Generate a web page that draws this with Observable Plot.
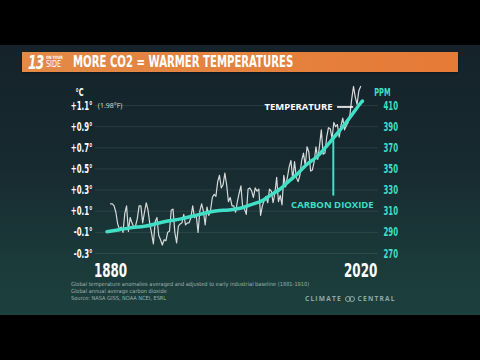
<!DOCTYPE html>
<html>
<head>
<meta charset="utf-8">
<script src="https://cdn.jsdelivr.net/npm/d3@7"></script>
<script src="https://cdn.jsdelivr.net/npm/@observablehq/plot@0.6"></script>
<style>
  html,body{margin:0;padding:0;background:#000;}
  #wrap{position:relative;width:480px;height:360px;overflow:hidden;background:#000;font-family:"DejaVu Sans Condensed","DejaVu Sans",sans-serif;}
  #panel{position:absolute;left:0;top:45px;width:480px;height:270px;background:linear-gradient(180deg,#15222a 0%,#172a30 45%,#1b3a3a 80%,#1c403e 100%);}
  #bar{position:absolute;left:22px;top:52px;width:436px;height:20px;background:linear-gradient(90deg,#e28a46,#e67a37);box-shadow:0 1px 2px rgba(0,0,0,.4);}
  .sq{display:inline-block;transform-origin:left center;white-space:nowrap;}
  #logo13{position:absolute;left:6px;top:0px;color:#fff;font-weight:bold;font-style:italic;font-size:19px;line-height:20px;letter-spacing:-1px;}
  #logoA{position:absolute;left:24px;top:3px;color:#fff;font-size:4.5px;line-height:5px;font-weight:bold;}
  #logoB{position:absolute;left:24px;top:8px;color:#fff;font-size:9px;line-height:9px;}
  #title{position:absolute;left:51px;top:1px;color:#fff;font-weight:bold;font-size:15px;line-height:18px;}
  #chart{position:absolute;left:0;top:80px;}
  #foot{position:absolute;left:71px;top:281px;color:#9cb0ad;font-family:"DejaVu Sans Condensed","Liberation Sans",sans-serif;font-size:5.6px;line-height:7px;}
  #cc{position:absolute;left:305px;top:294px;color:#8fa9a6;font-family:"Open Sans",sans-serif;font-weight:bold;font-size:6.6px;letter-spacing:1.2px;white-space:nowrap;}
  .ring{display:inline-block;width:4px;height:4px;border:1.3px solid #8fa9a6;border-radius:50%;vertical-align:-1px;}
</style>
</head>
<body>
<div id="wrap">
  <div id="panel"></div>
  <div id="bar">
    <div id="logo13"><span class="sq" style="transform:scaleX(0.72)">13</span></div>
    <div id="logoA"><span class="sq" style="transform:scaleX(0.8)">ON YOUR</span></div>
    <div id="logoB"><span class="sq" style="transform:scaleX(0.8)">SIDE</span></div>
    <div id="title"><span class="sq" style="transform:scaleX(0.75)">MORE CO2 = WARMER TEMPERATURES</span></div>
  </div>
  <div id="chart"></div>
  <div id="foot">
    Global temperature anomalies averaged and adjusted to early industrial baseline (1881-1910)<br>
    Global annual average carbon dioxide<br>
    Source: NASA GISS, NOAA NCEI, ESRL
  </div>
  <div id="cc">CLIMATE <span class="ring"></span><span class="ring" style="margin-left:-2px"></span> CENTRAL</div>
</div>
<script>
// ---------- data ----------
const tempYears = d3.range(1880, 2021);
const tempValues = [
  0.17, 0.17, 0.15, 0.09,-0.02,-0.07,-0.05,-0.10, 0.08, 0.15,
 -0.09, 0.04,-0.01,-0.05,-0.04, 0.03, 0.15, 0.15,-0.01, 0.09,
  0.18, 0.11,-0.02,-0.11,-0.21, 0.00, 0.04,-0.13,-0.17,-0.22,
 -0.17,-0.18,-0.10,-0.09, 0.11, 0.12,-0.10,-0.20,-0.04,-0.02,
 -0.01, 0.07,-0.03,-0.01,-0.01, 0.04, 0.15, 0.04, 0.06,-0.10,
  0.10, 0.17, 0.10,-0.03, 0.14, 0.06, 0.11, 0.23, 0.26, 0.24,
  0.38, 0.44, 0.32, 0.35, 0.46, 0.35, 0.19, 0.23, 0.15, 0.15,
  0.09, 0.19, 0.27, 0.34, 0.13, 0.12, 0.07, 0.31, 0.32, 0.29,
  0.23, 0.32, 0.29, 0.31, 0.06, 0.15, 0.20, 0.24, 0.18, 0.31,
  0.29, 0.18, 0.27, 0.42, 0.19, 0.25, 0.16, 0.44, 0.33, 0.42,
  0.52, 0.58, 0.40, 0.57, 0.42, 0.38, 0.44, 0.58, 0.65, 0.53,
  0.71, 0.66, 0.48, 0.49, 0.57, 0.71, 0.59, 0.72, 0.87, 0.64,
  0.65, 0.80, 0.89, 0.88, 0.79, 0.94, 0.90, 0.92, 0.80, 0.91,
  0.98, 0.87, 0.91, 0.94, 1.01, 1.16, 1.28, 1.18, 1.11, 1.24,
  1.28
];
const co2Years = [1878,1885,1890,1895,1900,1905,1910,1915,1920,1925,1930,1935,1940,1945,1950,1955,1960,1965,1970,1975,1980,1985,1990,1995,2000,2005,2010,2015,2020,2021];
const co2Ppm   = [ 290.5,292.5,294,295,296,298,300,301.5,303,305,307,309,310.5,311,312,314,317,320,325.7,331,338.7,346,354.4,360.8,369.7,379.8,389.9,401,412.4,414];

const tempTicks = [-0.3,-0.1,0.1,0.3,0.5,0.7,0.9,1.1];
const ppmTicks  = [270,290,310,330,350,370,390,410];
const yearTicks = [1880, 2020];

// annotation data
const tempLabel = [{year: 2004.3, value: 1.086, text: "TEMPERATURE"}];
const tempLeader = [{x1: 2007.1, x2: 2016.1, value: 1.086}];
const co2Label = [{year: 2004.2, value: 0.157, text: "CARBON DIOXIDE"}];
const co2LeaderYear = 2004.7;
const co2LeaderBottom = 0.243;
const fLabel = [{year: 1872.9, value: 1.1, text: "(1.98°F)"}];

// ---------- helpers ----------
const ppmToC = p => 0.1 + (p - 310) / 100;
const temp = tempYears.map((y, i) => ({year: y, value: tempValues[i]}));
const co2 = co2Years.map((y, i) => ({year: y, value: ppmToC(co2Ppm[i])}));
const co2AtLeader = ppmToC(d3.scaleLinear(co2Years, co2Ppm)(co2LeaderYear));

const cyan = "#40dfc6";
const narrow = '"DejaVu Sans Condensed","DejaVu Sans",sans-serif';
const wide = '"Open Sans","DejaVu Sans",sans-serif';

const chart = Plot.plot({
  width: 480,
  height: 200,
  marginLeft: 95,
  marginRight: 102,
  marginTop: 25,
  marginBottom: 27,
  x: {domain: [1871.6, 2030]},
  y: {domain: [-0.3, 1.1]},
  style: {background: "transparent", color: "#fff", fontFamily: narrow, overflow: "visible"},
  marks: [
    Plot.gridY(tempTicks, {stroke: "#ffffff", strokeOpacity: 0.09, strokeWidth: 1}),
    Plot.axisY(tempTicks, {anchor: "left", tickSize: 0, tickPadding: 3, label: null,
      tickFormat: d => (d > 0 ? "+" : "") + d.toFixed(1) + "°",
      fontSize: 12.5, fontWeight: "bold", fill: "#ffffff", className: "sqL"}),
    Plot.axisY(tempTicks, {anchor: "right", tickSize: 0, tickPadding: 5, label: null,
      tickFormat: (d, i) => String(ppmTicks[i]),
      fontSize: 12.5, fontWeight: "bold", fill: cyan, className: "sqR"}),
    Plot.axisX(yearTicks, {anchor: "bottom", tickSize: 0, tickPadding: 10, label: null,
      tickFormat: d => String(d), fontSize: 19, fontWeight: "bold", fill: "#ffffff", className: "sqX"}),
    Plot.text(["°C"], {frameAnchor: "top-left", dx: -20, dy: -17, fontSize: 10.5, fontWeight: "bold", fill: "#fff", className: "sqH"}),
    Plot.text(["PPM"], {frameAnchor: "top-right", dx: 12, dy: -17, fontSize: 10.5, fontWeight: "bold", fill: cyan, className: "sqH"}),
    Plot.text(fLabel, {x: "year", y: "value", text: "text", textAnchor: "start", fontSize: 7, fill: "#d8dddd", fontFamily: wide}),
    Plot.line(temp, {x: "year", y: "value", stroke: "#d6dada", strokeWidth: 1.2}),
    Plot.ruleX([co2LeaderYear], {y1: co2LeaderBottom, y2: co2AtLeader, stroke: cyan, strokeWidth: 2}),
    Plot.line(co2, {x: "year", y: "value", stroke: cyan, strokeWidth: 3.5, curve: "natural", strokeLinecap: "round"}),
    Plot.ruleY(tempLeader, {y: "value", x1: "x1", x2: "x2", stroke: "#ffffff", strokeWidth: 1.6}),
    Plot.text(tempLabel, {x: "year", y: "value", text: "text", textAnchor: "end", fontSize: 9.5, fontWeight: "bold", fill: "#ffffff", fontFamily: wide}),
    Plot.text(co2Label, {x: "year", y: "value", text: "text", textAnchor: "middle", fontSize: 9.5, fontWeight: "bold", fill: cyan, fontFamily: wide})
  ]
});
document.getElementById("chart").appendChild(chart);

// condense the display-style labels (the reference uses a narrow display face):
// append a horizontal scale to each label's own translate, so its anchor stays put
function squeeze(cls, factor) {
  chart.querySelectorAll("." + cls + " text").forEach(t => {
    const tr = t.getAttribute("transform") || "";
    t.setAttribute("transform", (tr + ` scale(${factor},1)`).trim());
  });
}
squeeze("sqL", 0.62);
squeeze("sqR", 0.62);
squeeze("sqX", 0.7);
squeeze("sqH", 0.7);
</script>
</body>
</html>
